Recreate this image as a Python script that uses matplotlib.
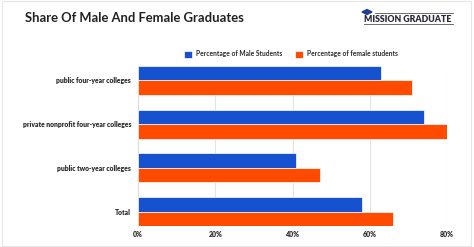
import matplotlib
matplotlib.use("Agg")
import matplotlib.pyplot as plt
from matplotlib.patches import Rectangle, Polygon
import numpy as np

plt.rcParams["font.family"] = ["Lato", "DejaVu Sans"]

categories = ["public four-year colleges", "private nonprofit four-year colleges",
              "public two-year colleges", "Total"]
male = [63, 74, 41, 58]
female = [71, 80, 47, 66]
xticks = [0, 20, 40, 60, 80]
xticklabels = ["0%", "20%", "40%", "60%", "80%"]
series_names = ["Percentage of Male Students", "Percentage of female students"]

BLUE = "#1652D0"
ORANGE = "#FE4B00"

W, H = 474, 247
fig = plt.figure(figsize=(W / 100, H / 100), dpi=100)
fig.patch.set_facecolor("white")

# card border
fig.add_artist(Rectangle((1.5 / W, 1 - 245.5 / H), 469.5 / W, 244 / H,
                         transform=fig.transFigure, fill=False,
                         edgecolor="#e6e6e6", linewidth=0.8))

left, right = 138 / W, 447 / W
top, bottom = 1 - 66 / H, 1 - 226 / H
ax = fig.add_axes([left, bottom, right - left, top - bottom])

y = np.arange(len(categories))
h = 0.332
ax.barh(y - h / 2, male, height=h, color=BLUE, edgecolor="white", linewidth=0.5,
        label=series_names[0], zorder=3)
ax.barh(y + h / 2, female, height=h, color=ORANGE, edgecolor="white", linewidth=0.5,
        label=series_names[1], zorder=3)

ax.set_xlim(0, 80)
ax.set_ylim(3 + h, -h)
ax.set_xticks(xticks)
ax.set_xticklabels(xticklabels, fontsize=5.0, color="#2b2b2b", fontweight="heavy")
ax.set_yticks(y)
ax.set_yticklabels(categories, fontsize=4.9, color="#2b2b2b", fontweight="heavy")
ax.tick_params(length=0, pad=3.5)
ax.tick_params(axis="y", pad=5)
ax.grid(axis="x", color="#e3e3e3", linewidth=0.8, zorder=0)
for s in ["top", "right", "bottom"]:
    ax.spines[s].set_visible(False)
ax.spines["left"].set_color("#dddddd")
ax.spines["left"].set_linewidth(0.8)

# legend
leg = fig.legend(loc="center", bbox_to_anchor=(291 / W, 1 - 54 / H), ncol=2,
                 frameon=False, fontsize=4.8, handlelength=1.15, handleheight=1.15,
                 handletextpad=0.6, columnspacing=1.9)
for t in leg.get_texts():
    t.set_color("#2b2b2b")
    t.set_fontweight("bold")

# title
fig.text(25 / W, 1 - 18.5 / H, "Share Of Male And Female Graduates", fontsize=9.4,
         fontweight="bold", color="#222222", va="center", ha="left")

# logo
fig.text(408 / W, 1 - 19 / H, "MISSION GRADUATE", fontsize=6.3, fontweight="heavy",
         color="#2a2a3a", va="center", ha="center")
fig.add_artist(plt.Line2D([375 / W, 453 / W], [1 - 13.5 / H, 1 - 13.5 / H],
                          transform=fig.transFigure, color="#555555", linewidth=0.6))
fig.add_artist(plt.Line2D([364 / W, 453 / W], [1 - 24.5 / H, 1 - 24.5 / H],
                          transform=fig.transFigure, color="#555555", linewidth=0.6))
fig.add_artist(Polygon([(362 / W, 1 - 12 / H), (367 / W, 1 - 9.5 / H),
                        (372 / W, 1 - 12 / H), (367 / W, 1 - 14.5 / H)],
                       closed=True, transform=fig.transFigure, color="#1d3f8f"))

fig.savefig("out.png", dpi=100, facecolor="white")
